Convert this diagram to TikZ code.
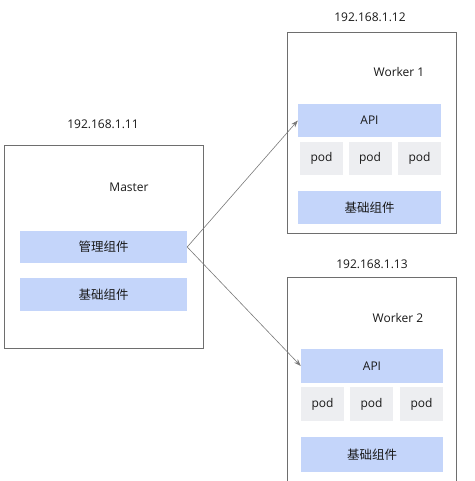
\documentclass[tikz,border=0pt]{standalone}
\usepackage{fontspec}
\setmainfont{Open Sans}
\newfontfamily\cjk{Noto Sans CJK SC}
\usetikzlibrary{arrows.meta}
\definecolor{blk}{HTML}{C4D5FA}
\definecolor{podc}{HTML}{EDEEF1}
\definecolor{edgec}{HTML}{6E6E6E}
\definecolor{arr}{HTML}{7A7A7A}
\tikzset{
  host/.style={draw=edgec, line width=0.8pt, fill=white, inner sep=0pt},
  comp/.style={fill=blk, inner sep=0pt, text=black!90, font=\cjk\fontsize{12.5}{14}\selectfont},
  podbox/.style={fill=podc, inner sep=0pt, font=\fontsize{12}{14}\selectfont, text=black!90},
  lab/.style={inner sep=0pt, font=\fontsize{12}{14}\selectfont, text=black!90},
  conn/.style={draw=arr, line width=0.6pt, -{Stealth[length=7pt,width=5pt]}}
}
\begin{document}
\begin{tikzpicture}[x=1pt,y=-1pt]
\useasboundingbox (0,0) rectangle (474,481);
\clip (0,0) rectangle (474,481);
% Master
\node[host, minimum width=199pt, minimum height=203pt] (master) at (103.5,246.5) {};
\node[lab] (ipm) at (103,124) {192.168.1.11};
\node[lab] (mname) at (129,187) {Master};
\node[comp, minimum width=167pt, minimum height=32pt] (mgmt) at (103.5,247) {管理组件};
\node[comp, minimum width=167pt, minimum height=33pt] (mbase) at (103.5,294.5) {基础组件};
% Worker 1
\node[host, minimum width=169pt, minimum height=201pt] (w1) at (371.5,132.5) {};
\node[lab] (ip1) at (370,17) {192.168.1.12};
\node[lab] (w1name) at (399,72) {Worker 1};
\node[comp, font=\fontsize{12}{14}\selectfont, minimum width=143pt, minimum height=33pt] (api1) at (369.5,120.5) {API};
\node[podbox, minimum width=43pt, minimum height=33pt] (p11) at (321.5,158.5) {pod};
\node[podbox, minimum width=43pt, minimum height=33pt] (p12) at (370,158.5) {pod};
\node[podbox, minimum width=43pt, minimum height=33pt] (p13) at (419.5,158.5) {pod};
\node[comp, minimum width=143pt, minimum height=33pt] (w1base) at (369.5,207.5) {基础组件};
% Worker 2
\node[host, minimum width=169pt, minimum height=223pt] (w2) at (371.5,388.5) {};
\node[lab] (ip2) at (372,264) {192.168.1.13};
\node[lab] (w2name) at (398,318) {Worker 2};
\node[comp, font=\fontsize{12}{14}\selectfont, minimum width=142pt, minimum height=34pt] (api2) at (372,366) {API};
\node[podbox, minimum width=43pt, minimum height=34pt] (p21) at (322.5,404) {pod};
\node[podbox, minimum width=43pt, minimum height=34pt] (p22) at (371.5,404) {pod};
\node[podbox, minimum width=43pt, minimum height=34pt] (p23) at (421.5,404) {pod};
\node[comp, minimum width=142pt, minimum height=35pt] (w2base) at (372,454.5) {基础组件};
% connectors
\draw[conn] (mgmt.east) -- (api1.west);
\draw[conn] (mgmt.east) -- (api2.west);
\end{tikzpicture}
\end{document}
